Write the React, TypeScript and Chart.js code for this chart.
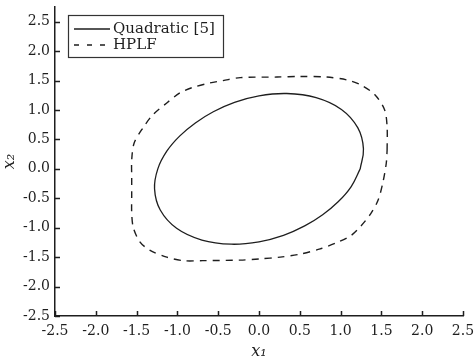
import React, { useEffect, useRef } from "react";
import { Chart, registerables } from "chart.js";

Chart.register(...registerables);

// Quadratic [5] closed curve
const quadX = [1.24, 1.28, 1.21, 1.01, 0.70, 0.34, 0.0, -0.30, -0.56, -0.78, -0.97, -1.13, -1.24, -1.28, -1.21, -1.01, -0.70, -0.34, 0.0, 0.30, 0.56, 0.78, 0.97, 1.13, 1.24];
const quadY = [0.0, 0.34, 0.70, 1.01, 1.21, 1.28, 1.24, 1.13, 0.97, 0.78, 0.56, 0.30, 0.0, -0.34, -0.70, -1.01, -1.21, -1.28, -1.24, -1.13, -0.97, -0.78, -0.56, -0.30, 0.0];

// HPLF closed curve
const hplfX = [1.57, 1.57, 1.54, 1.42, 1.24, 1.08, 0.83, 0.50, 0.22, -0.23, -0.44, -0.60, -0.82, -0.97, -1.13, -1.30, -1.42, -1.53, -1.56, -1.56, -1.56, -1.56, -1.54, -1.46, -1.34, -1.13, -0.93, -0.69, -0.23, 0.01, 0.26, 0.50, 0.75, 0.96, 1.13, 1.25, 1.37, 1.46, 1.52, 1.56, 1.57];
const hplfY = [0.32, 0.71, 1.00, 1.26, 1.43, 1.51, 1.56, 1.57, 1.56, 1.55, 1.50, 1.46, 1.38, 1.29, 1.12, 0.92, 0.70, 0.44, 0.15, -0.14, -0.45, -0.75, -1.00, -1.24, -1.38, -1.50, -1.56, -1.56, -1.55, -1.53, -1.50, -1.45, -1.36, -1.25, -1.13, -0.97, -0.76, -0.53, -0.22, 0.10, 0.32];

const xTickValues = [-2.5, -2.0, -1.5, -1.0, -0.5, 0.0, 0.5, 1.0, 1.5, 2.0, 2.5];
const yTickValues = [-2.5, -2.0, -1.5, -1.0, -0.5, 0.0, 0.5, 1.0, 1.5, 2.0, 2.5];
const seriesNames = ["Quadratic [5]", "HPLF"];
const xTitle = "x₁";
const yTitle = "x₂";

const INK = "#1e1e1e";
const SERIF = "'DejaVu Serif', serif";

export default function App() {
  const ref = useRef<HTMLCanvasElement>(null);

  useEffect(() => {
    const canvas = ref.current;
    if (!canvas) return;
    const toPts = (xs: number[], ys: number[]) => xs.map((x, i) => ({ x, y: ys[i] }));

    const innerTicks = {
      id: "innerTicks",
      afterDraw(chart: any) {
        const { ctx, chartArea, scales } = chart;
        ctx.save();
        ctx.strokeStyle = INK;
        ctx.lineWidth = 1.5;
        ctx.beginPath();
        xTickValues.forEach((v) => {
          const px = Math.round(scales.x.getPixelForValue(v)) + 0.5;
          ctx.moveTo(px, chartArea.bottom);
          ctx.lineTo(px, chartArea.bottom - 5);
        });
        yTickValues.forEach((v) => {
          const py = Math.round(scales.y.getPixelForValue(v)) + 0.5;
          ctx.moveTo(chartArea.left, py);
          ctx.lineTo(chartArea.left + 5, py);
        });
        ctx.stroke();
        ctx.restore();
      },
    };

    const legendBox = {
      id: "legendBox",
      afterDraw(chart: any) {
        const { ctx } = chart;
        const bx = 68;
        const by = 15;
        const bw = 155;
        const bh = 42;
        ctx.save();
        ctx.fillStyle = "#ffffff";
        ctx.fillRect(bx, by, bw, bh);
        ctx.strokeStyle = "#333";
        ctx.lineWidth = 1.2;
        ctx.strokeRect(bx + 0.5, by + 0.5, bw, bh);
        const rows = [by + 14, by + 30];
        ctx.strokeStyle = INK;
        ctx.lineWidth = 1.3;
        ctx.beginPath();
        ctx.setLineDash([]);
        ctx.moveTo(bx + 6, rows[0]);
        ctx.lineTo(bx + 42, rows[0]);
        ctx.stroke();
        ctx.beginPath();
        ctx.setLineDash([5, 8]);
        ctx.moveTo(bx + 6, rows[1]);
        ctx.lineTo(bx + 42, rows[1]);
        ctx.stroke();
        ctx.setLineDash([]);
        ctx.fillStyle = INK;
        ctx.font = "15px " + SERIF;
        ctx.textBaseline = "middle";
        ctx.textAlign = "left";
        ctx.fillText(seriesNames[0], bx + 45, rows[0]);
        ctx.fillText(seriesNames[1], bx + 45, rows[1]);
        ctx.restore();
      },
    };

    const chart = new Chart(canvas, {
      type: "scatter",
      data: {
        datasets: [
          {
            label: seriesNames[0],
            data: toPts(quadX, quadY),
            showLine: true,
            borderColor: INK,
            borderWidth: 1.3,
            pointRadius: 0,
            tension: 0.4,
            fill: false,
          },
          {
            label: seriesNames[1],
            data: toPts(hplfX, hplfY),
            showLine: true,
            borderColor: INK,
            borderWidth: 1.4,
            borderDash: [7, 6],
            pointRadius: 0,
            tension: 0.3,
            fill: false,
          },
        ],
      },
      options: {
        responsive: false,
        animation: false,
        layout: { padding: 0 },
        plugins: { legend: { display: false }, tooltip: { enabled: false } },
        scales: {
          x: {
            type: "linear",
            min: -2.5,
            max: 2.5,
            grid: { display: false, drawTicks: false },
            border: { display: true, color: INK, width: 1.5 },
            afterBuildTicks: (s: any) => {
              s.ticks = xTickValues.map((v) => ({ value: v }));
            },
            afterFit: (s: any) => {
              s.height = 46;
              s.paddingLeft = 0;
              s.paddingRight = 11;
            },
            ticks: {
              autoSkip: false,
              maxRotation: 0,
              padding: 7,
              color: INK,
              font: { family: SERIF, size: 14 },
              callback: (v: any) => Number(v).toFixed(1),
            },
            title: {
              display: true,
              text: xTitle,
              color: INK,
              font: { family: SERIF, size: 16, style: "italic" },
              padding: { top: 0, bottom: 1 },
            },
          },
          y: {
            type: "linear",
            min: -2.5,
            max: 2.75,
            grid: { display: false, drawTicks: false },
            border: { display: true, color: INK, width: 1.5 },
            afterBuildTicks: (s: any) => {
              s.ticks = yTickValues.map((v) => ({ value: v }));
            },
            afterFit: (s: any) => {
              s.width = 55;
              s.paddingTop = 7;
              s.paddingBottom = 0;
            },
            ticks: {
              autoSkip: false,
              padding: 5,
              color: INK,
              font: { family: SERIF, size: 14 },
              callback: (v: any) => Number(v).toFixed(1),
            },
            title: {
              display: true,
              text: yTitle,
              color: INK,
              font: { family: SERIF, size: 16, style: "italic" },
              padding: { top: 0, bottom: 0 },
            },
          },
        },
      },
      plugins: [innerTicks, legendBox],
    });
    return () => chart.destroy();
  }, []);

  return (
    <div style={{ position: "fixed", left: 0, top: 0, width: 474, height: 362, background: "#fff" }}>
      <canvas ref={ref} width={474} height={362} style={{ display: "block" }} />
    </div>
  );
}
